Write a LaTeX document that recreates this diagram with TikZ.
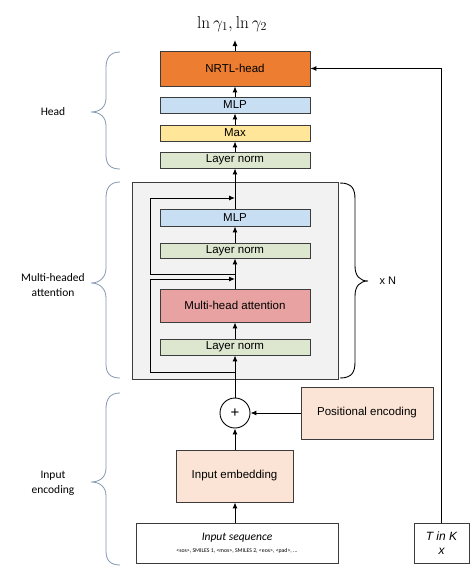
\documentclass[tikz,border=0pt]{standalone}
\usepackage[no-math]{fontspec}
\setmainfont{Liberation Sans}
\newfontfamily\calibri{Carlito}
\usetikzlibrary{arrows.meta}
\definecolor{nrtlc}{RGB}{237,125,49}
\definecolor{mlpc}{RGB}{200,222,243}
\definecolor{maxc}{RGB}{255,230,153}
\definecolor{lnc}{RGB}{221,231,207}
\definecolor{mhac}{RGB}{232,162,162}
\definecolor{embc}{RGB}{251,228,213}
\definecolor{boxc}{RGB}{242,242,242}
\definecolor{bracec}{RGB}{132,151,176}
\definecolor{edgec}{RGB}{60,60,60}
\begin{document}
\begin{tikzpicture}[x=1pt,y=-1pt,
  blk/.style={draw=edgec, line width=0.8pt, minimum width=150pt, inner sep=0pt, font=\fontsize{11.5}{13}\selectfont},
  arr/.style={-{Latex[length=6pt,width=5pt]}, line width=1pt},
  lbr/.style={draw=bracec, line width=0.8pt},
  rbr/.style={draw=black, line width=0.9pt},
  side/.style={font=\calibri\fontsize{11.5}{15}\selectfont, align=center}]
\useasboundingbox (0,0) rectangle (474,570);
% big repeated block
\node[draw=edgec, line width=0.8pt, fill=boxc, minimum width=206pt, minimum height=197pt, inner sep=0pt] (big) at (235,280.5) {};
% head
\node (out) at (232,24) {\fontsize{18}{20}\selectfont$\ln\gamma_1,\ln\gamma_2$};
\coordinate (outin) at (235,40);
\node[blk, fill=nrtlc, minimum height=35pt] (nrtl) at (235,68.5) {NRTL-head};
\node[blk, fill=mlpc, minimum height=16pt] (mlph) at (235,105) {MLP};
\node[blk, fill=maxc, minimum height=16pt] (maxh) at (235,133) {Max};
\node[blk, fill=lnc, minimum height=16pt] (lnh) at (235,160) {Layer norm};
% block internals
\node[blk, fill=mlpc, minimum height=17pt] (mlpi) at (235,217.5) {MLP};
\node[blk, fill=lnc, minimum height=15pt] (ln1) at (235,250.5) {Layer norm};
\node[blk, fill=mhac, minimum height=33pt] (mha) at (235,305.5) {Multi-head attention};
\node[blk, fill=lnc, minimum height=16pt] (ln2) at (235,347) {Layer norm};
% input encoding
\node[draw=black, line width=0.9pt, fill=white, circle, minimum size=30pt, inner sep=0pt, font=\fontsize{15}{15}\selectfont] (plus) at (235,413) {+};
\node[blk, fill=embc, minimum width=132pt, minimum height=52pt] (pos) at (367,413) {Positional encoding};
\node[blk, fill=embc, minimum width=117pt, minimum height=52pt] (emb) at (234.5,476) {Input embedding};
\node[blk, fill=white, minimum width=202pt, minimum height=40pt, align=center] (seq) at (237,543)
  {{\calibri\itshape\fontsize{11.5}{12}\selectfont Input sequence}\\[-1pt]{\calibri\fontsize{5.8}{7}\selectfont <sos>, SMILES 1, <mos>, SMILES 2, <eos>, <pad>, ...}};
\node[blk, fill=white, minimum width=55pt, minimum height=40pt, align=center, font=\itshape\fontsize{12}{14}\selectfont] (tink) at (441.5,543) {T in K\\x};
% main flow
\draw[arr] (seq.north -| plus) -- (emb.south -| plus);
\draw[arr] (emb.north -| plus) -- (plus.south);
\draw[arr] (pos.west) -- (plus.east);
\draw[arr] (plus.north) -- (ln2.south);
\draw[arr] (ln2.north) -- (mha.south);
\draw[arr] (mha.north) -- (ln1.south);
\draw[arr] (ln1.north) -- (mlpi.south);
\draw[arr] (mlpi.north) -- (lnh.south);
\draw[arr] (lnh.north) -- (maxh.south);
\draw[arr] (maxh.north) -- (mlph.south);
\draw[arr] (mlph.north) -- (nrtl.south);
\draw[arr] (nrtl.north) -- (outin);
\draw[arr] (tink.north) |- (nrtl.east);
% residual connections
\coordinate (r1) at (235,372); \coordinate (r2) at (150,372);
\coordinate (r3) at (150,279); \coordinate (r4) at (235,279);
\draw[arr] (r1) -- (r2) -- (r3) -- (r4);
\coordinate (u1) at (235,274); \coordinate (u2) at (150,274);
\coordinate (u3) at (150,198); \coordinate (u4) at (235,198);
\draw[arr] (u1) -- (u2) -- (u3) -- (u4);
% right brace
\draw[rbr] (340,183) .. controls (352,183) and (355,189) .. (355,199) -- (355,266)
  .. controls (355,276) and (360,281) .. (368,281)
  .. controls (360,281) and (355,286) .. (355,296) -- (355,362)
  .. controls (355,372) and (352,378) .. (340,378);
\node[anchor=west, font=\fontsize{11}{13}\selectfont] (xn) at (376,281) {x N};
% left braces
\draw[lbr] (120,52) .. controls (110,52) and (106,58) .. (106,68) -- (106,98)
  .. controls (106,107) and (100,112) .. (91,112)
  .. controls (100,112) and (106,117) .. (106,126) -- (106,155)
  .. controls (106,164) and (110,169) .. (120,169);
\node[side] (lh) at (53,112) {Head};
\draw[lbr] (120,182) .. controls (110,182) and (106,188) .. (106,198) -- (106,268)
  .. controls (106,277) and (100,283) .. (91,283)
  .. controls (100,283) and (106,289) .. (106,298) -- (106,364)
  .. controls (106,373) and (110,378) .. (120,378);
\node[side] (lm) at (53,285) {Multi-headed\\attention};
\draw[lbr] (120,393) .. controls (110,393) and (106,399) .. (106,409) -- (106,468)
  .. controls (106,477) and (100,482) .. (91,482)
  .. controls (100,482) and (106,487) .. (106,496) -- (106,551)
  .. controls (106,560) and (110,565) .. (120,565);
\node[side] (li) at (53,483) {Input\\encoding};
\end{tikzpicture}
\end{document}
